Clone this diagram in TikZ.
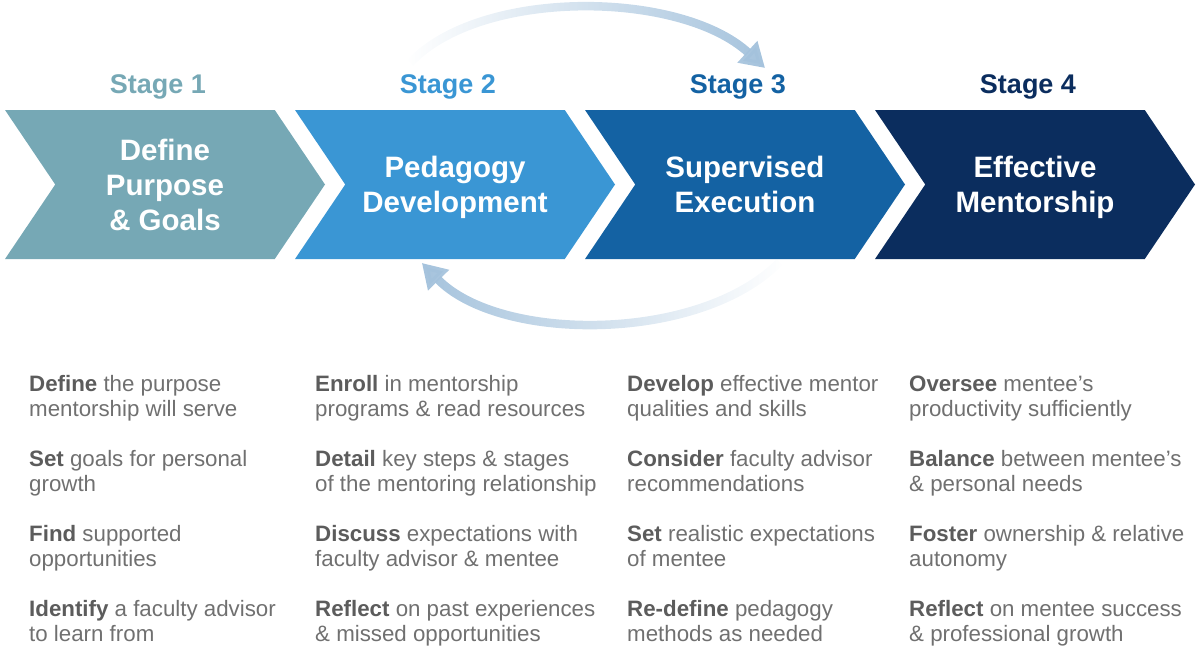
\documentclass[tikz,border=0pt]{standalone}
\usepackage{fontspec}
\setmainfont{Liberation Sans}
\usepackage{tikz}
\usetikzlibrary{positioning,shapes.symbols,arrows.meta,fadings}

\definecolor{stageone}{RGB}{118,168,181}
\definecolor{stagetwo}{RGB}{58,150,212}
\definecolor{stagethree}{RGB}{20,98,163}
\definecolor{stagefour}{RGB}{11,45,94}
\definecolor{arcblue}{RGB}{164,194,220}
\definecolor{ink}{RGB}{112,112,112}
\definecolor{inkdark}{RGB}{92,92,92}

\tikzfading[name=fadein, left color=transparent!100, middle color=transparent!0, right color=transparent!0]
\tikzfading[name=fadeout, left color=transparent!0, middle color=transparent!0, right color=transparent!100]

\newcommand{\kw}[1]{{\bfseries\color{inkdark}#1}}

\begin{document}
\begin{tikzpicture}[x=1pt, y=1pt,
	chev/.style = {signal, signal to=east, signal from=west, signal pointer angle=112,
		minimum width=320pt, minimum height=149pt, inner sep=0pt, text=white, text depth=0pt,
		align=center, font=\fontsize{29.5}{35}\selectfont\bfseries},
	stage/.style = {inner sep=0pt, font=\fontsize{27}{32}\selectfont\bfseries},
	item/.style = {align=left, inner sep=0pt, text=ink, font=\fontsize{22.3}{25}\selectfont},
	loopback/.style = {line width=8.5pt, draw=arcblue, -{Triangle[length=24pt, width=28pt]}}]
		\useasboundingbox (0,0) rectangle (1200,-648);

		\node[chev, fill=stageone] (s1) at (165,-184.5) {Define\\Purpose\\\& Goals};
		\node[chev, fill=stagetwo] (s2) [on grid, right=290pt of s1] {Pedagogy\\Development};
		\node[chev, fill=stagethree] (s3) [on grid, right=290pt of s2] {Supervised\\Execution};
		\node[chev, fill=stagefour] (s4) [on grid, right=290pt of s3] {Effective\\Mentorship};

		\node[stage, text=stageone] (l1) [above=16pt of s1.north, anchor=base, xshift=-7pt] {Stage 1};
		\node[stage, text=stagetwo] (l2) [above=16pt of s2.north, anchor=base, xshift=-7pt] {Stage 2};
		\node[stage, text=stagethree] (l3) [above=16pt of s3.north, anchor=base, xshift=-7pt] {Stage 3};
		\node[stage, text=stagefour] (l4) [above=16pt of s4.north, anchor=base, xshift=-7pt] {Stage 4};

		% loop between stage 2 and stage 3
		\coordinate (fwdA) at (410,-63);
		\coordinate (fwdB) at (765,-68);
		\coordinate (backA) at (780,-262);
		\coordinate (backB) at (422,-263);
		\draw[loopback, path fading=fadein] (fwdA) .. controls (480,12) and (680,10) .. (fwdB);
		\draw[loopback, path fading=fadeout] (backA) .. controls (700,-343) and (500,-343) .. (backB);

		% stage 1
		\node[item, anchor=base west] (a1) at (29,-416) {\kw{Define} the purpose\\mentorship will serve};
		\node[item] (a2) [below=75pt of a1.base west, anchor=base west] {\kw{Set} goals for personal\\growth};
		\node[item] (a3) [below=75pt of a2.base west, anchor=base west] {\kw{Find} supported\\opportunities};
		\node[item] (a4) [below=75pt of a3.base west, anchor=base west] {\kw{Identify} a faculty advisor\\to learn from};

		% stage 2
		\node[item, anchor=base west] (b1) at (315,-416) {\kw{Enroll} in mentorship\\programs \& read resources};
		\node[item] (b2) [below=75pt of b1.base west, anchor=base west] {\kw{Detail} key steps \& stages\\of the mentoring relationship};
		\node[item] (b3) [below=75pt of b2.base west, anchor=base west] {\kw{Discuss} expectations with\\faculty advisor \& mentee};
		\node[item] (b4) [below=75pt of b3.base west, anchor=base west] {\kw{Reflect} on past experiences\\\& missed opportunities};

		% stage 3
		\node[item, anchor=base west] (c1) at (627,-416) {\kw{Develop} effective mentor\\qualities and skills};
		\node[item] (c2) [below=75pt of c1.base west, anchor=base west] {\kw{Consider} faculty advisor\\recommendations};
		\node[item] (c3) [below=75pt of c2.base west, anchor=base west] {\kw{Set} realistic expectations\\of mentee};
		\node[item] (c4) [below=75pt of c3.base west, anchor=base west] {\kw{Re-define} pedagogy\\methods as needed};

		% stage 4
		\node[item, anchor=base west] (d1) at (909,-416) {\kw{Oversee} mentee's\\productivity sufficiently};
		\node[item] (d2) [below=75pt of d1.base west, anchor=base west] {\kw{Balance} between mentee's\\\& personal needs};
		\node[item] (d3) [below=75pt of d2.base west, anchor=base west] {\kw{Foster} ownership \& relative\\autonomy};
		\node[item] (d4) [below=75pt of d3.base west, anchor=base west] {\kw{Reflect} on mentee success\\\& professional growth};
	\end{tikzpicture}
\end{document}
